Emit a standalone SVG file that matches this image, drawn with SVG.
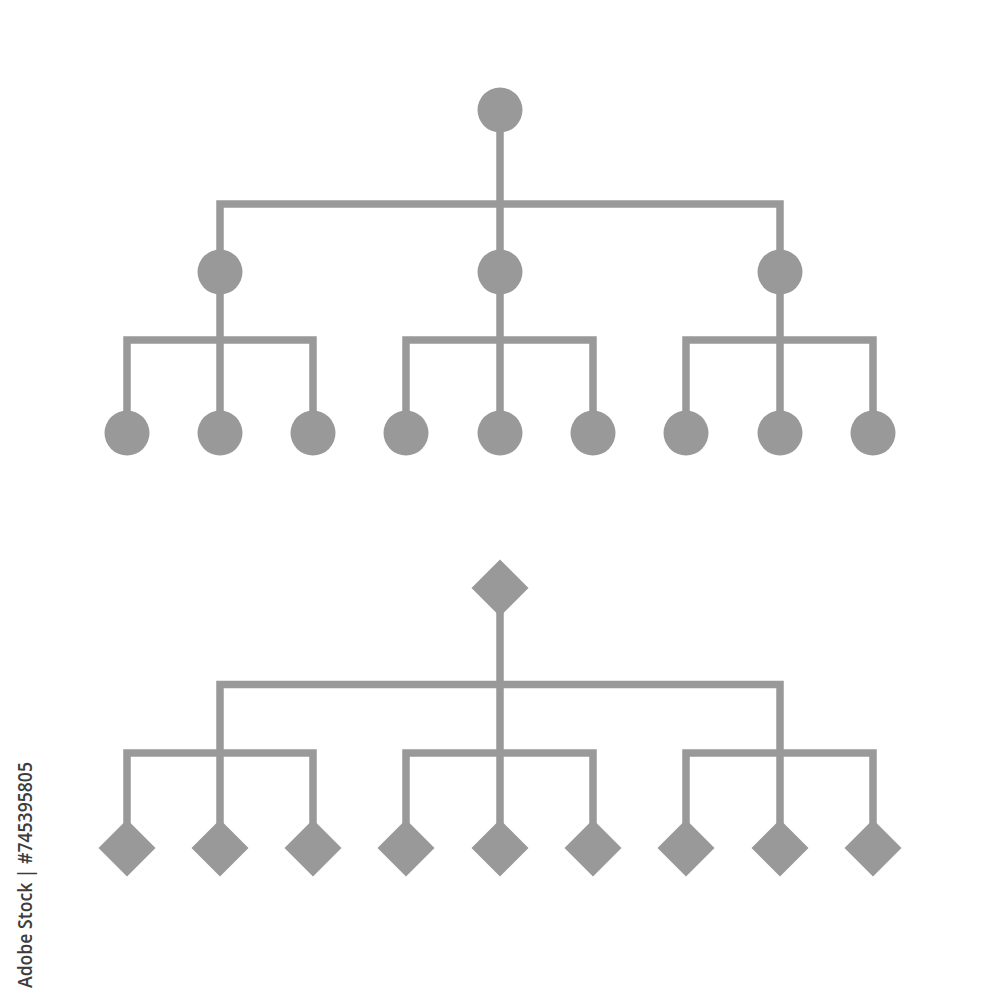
<svg xmlns="http://www.w3.org/2000/svg" width="1000" height="1000" viewBox="0 0 1000 1000">
  <style>
    .c { fill: none; stroke: #999999; stroke-width: 7.5; stroke-linejoin: miter; stroke-linecap: butt; }
    .n { fill: #999999; }
    .wm { font-family: "Open Sans", "Liberation Sans", sans-serif; font-size: 20px; font-weight: 600; fill: #3c3c3c; }
  </style>
  <defs>
    <circle id="dot" r="22.5" class="n"/>
    <polygon id="dia" points="0,-28.5 28.5,0 0,28.5 -28.5,0" class="n"/>
  </defs>
  <rect width="1000" height="1000" fill="#ffffff"/>

  <g id="connectors">
    <!-- top tree -->
    <path class="c" d="M500,110 V433"/>
    <path class="c" d="M220,433 V204 H780 V433"/>
    <path class="c" d="M127,433 V340 H313 V433"/>
    <path class="c" d="M406,433 V340 H593 V433"/>
    <path class="c" d="M686,433 V340 H873 V433"/>
    <!-- bottom tree -->
    <path class="c" d="M500,588 V848"/>
    <path class="c" d="M220,848 V684.5 H780 V848"/>
    <path class="c" d="M127,848 V753 H313 V848"/>
    <path class="c" d="M406,848 V753 H593 V848"/>
    <path class="c" d="M686,848 V753 H873 V848"/>
  </g>

  <g id="top-root"><use href="#dot" x="500" y="110"/></g>
  <g id="top-mid-1"><use href="#dot" x="220" y="272"/></g>
  <g id="top-mid-2"><use href="#dot" x="500" y="272"/></g>
  <g id="top-mid-3"><use href="#dot" x="780" y="272"/></g>
  <g id="top-leaf-1"><use href="#dot" x="127" y="433"/></g>
  <g id="top-leaf-2"><use href="#dot" x="220" y="433"/></g>
  <g id="top-leaf-3"><use href="#dot" x="313" y="433"/></g>
  <g id="top-leaf-4"><use href="#dot" x="406" y="433"/></g>
  <g id="top-leaf-5"><use href="#dot" x="500" y="433"/></g>
  <g id="top-leaf-6"><use href="#dot" x="593" y="433"/></g>
  <g id="top-leaf-7"><use href="#dot" x="686" y="433"/></g>
  <g id="top-leaf-8"><use href="#dot" x="780" y="433"/></g>
  <g id="top-leaf-9"><use href="#dot" x="873" y="433"/></g>

  <g id="bottom-root"><use href="#dia" x="500" y="588"/></g>
  <g id="bottom-leaf-1"><use href="#dia" x="127" y="848"/></g>
  <g id="bottom-leaf-2"><use href="#dia" x="220" y="848"/></g>
  <g id="bottom-leaf-3"><use href="#dia" x="313" y="848"/></g>
  <g id="bottom-leaf-4"><use href="#dia" x="406" y="848"/></g>
  <g id="bottom-leaf-5"><use href="#dia" x="500" y="848"/></g>
  <g id="bottom-leaf-6"><use href="#dia" x="593" y="848"/></g>
  <g id="bottom-leaf-7"><use href="#dia" x="686" y="848"/></g>
  <g id="bottom-leaf-8"><use href="#dia" x="780" y="848"/></g>
  <g id="bottom-leaf-9"><use href="#dia" x="873" y="848"/></g>

  <text class="wm" transform="translate(32,988) rotate(-90)" textLength="226" lengthAdjust="spacingAndGlyphs">Adobe Stock | #745395805</text>
</svg>
